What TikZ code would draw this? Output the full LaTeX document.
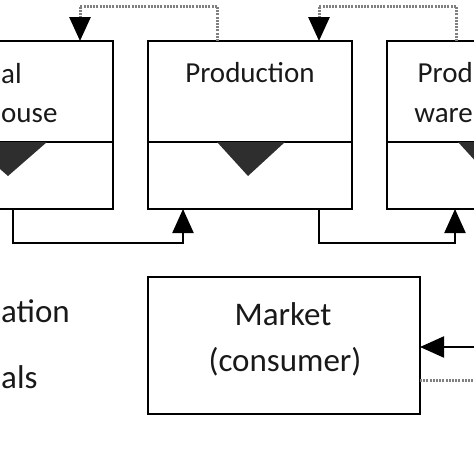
\documentclass[tikz,border=0pt]{standalone}
\usepackage{fontspec}
\setmainfont{Carlito}
\usetikzlibrary{arrows.meta}
\begin{document}
\begin{tikzpicture}[x=1pt,y=-1pt,
  box/.style={draw=black, line width=2.6pt, minimum width=204pt, minimum height=168pt, inner sep=0pt, outer sep=0pt, anchor=north west},
  mbox/.style={draw=black, line width=2.6pt, minimum width=272pt, minimum height=137pt, inner sep=0pt, outer sep=0pt, anchor=north west},
  divider/.style={draw=black, line width=2.6pt},
  tri/.style={fill=black!82},
  boxtext/.style={font=\fontsize{29}{34}\selectfont, inner sep=0pt, text=black!90},
  mtext/.style={font=\fontsize{33}{38}\selectfont, inner sep=0pt, text=black!90},
  flow/.style={draw=black, line width=2.2pt, -{Triangle[length=24pt,width=21pt]}},
  info/.style={draw=black!50, line width=3pt, dash pattern=on 2pt off 1.2pt, -{Triangle[length=24pt,width=21pt,color=black]}},
  infoline/.style={draw=black!50, line width=3pt, dash pattern=on 2pt off 1.2pt}]
\useasboundingbox (0,0) rectangle (474,474);
% boxes
\node[box] (lbox) at (-91,41) {};
\node[box] (pbox) at (148,41) {};
\node[box] (rbox) at (387,41) {};
\node[mbox] (market) at (148,277) {};
% dividers
\draw[divider] (lbox.west |- 0,142) -- (lbox.east |- 0,142);
\draw[divider] (pbox.west |- 0,142) -- (pbox.east |- 0,142);
\draw[divider] (rbox.west |- 0,142) -- (rbox.east |- 0,142);
% triangles
\fill[tri] (-31,142) -- (47,142) -- (8,176) -- cycle;
\fill[tri] (217,142) -- (285,142) -- (248,176) -- cycle;
\fill[tri] (458,142) -- (526,142) -- (489,176) -- cycle;
% texts
\node[boxtext, anchor=base west] (lt1) at (1,83) {al};
\node[boxtext, anchor=base west] (lt2) at (1,122) {ouse};
\node[boxtext, anchor=base] (pt) at (250,82) {Production};
\node[boxtext, anchor=base east] (rt1) at (473,82) {Prod};
\node[boxtext, anchor=base east] (rt2) at (473,122) {ware};
\node[mtext, anchor=base] (mt1) at (283,325) {Market};
\node[mtext, anchor=base] (mt2) at (285,371) {(consumer)};
\node[mtext, anchor=base west] (leg1) at (1,322) {ation};
\node[mtext, anchor=base west] (leg2) at (1,388) {als};
% material flows
\coordinate (a1) at (13,243);
\coordinate (a2) at (183,243);
\draw[flow] (lbox.south -| a1) -- (a1) -- (a2) -- (pbox.south -| a2);
\coordinate (b1) at (319,243);
\coordinate (b2) at (455,243);
\draw[flow] (pbox.south -| b1) -- (b1) -- (b2) -- (rbox.south -| b2);
\coordinate (m1) at (480,347);
\draw[flow] (m1) -- (market.east |- m1);
% information flows
\coordinate (c1) at (217,6);
\coordinate (c2) at (80,6);
\draw[info] (pbox.north -| c1) -- (c1) -- (c2) -- (lbox.north -| c2);
\coordinate (d1) at (456,6);
\coordinate (d2) at (319,6);
\draw[info] (rbox.north -| d1) -- (d1) -- (d2) -- (pbox.north -| d2);
\coordinate (m2) at (480,380);
\draw[infoline] (market.east |- m2) -- (m2);
\end{tikzpicture}
\end{document}
